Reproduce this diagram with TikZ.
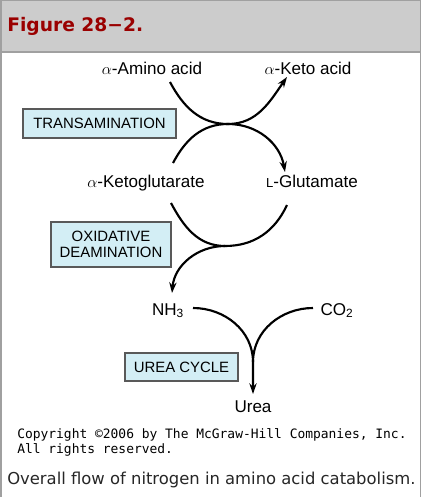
\documentclass[tikz,border=0pt]{standalone}
\usepackage{fontspec}
\setmainfont{Liberation Sans}
\newfontfamily\headfont{DejaVu Sans}
\newfontfamily\copyfont{DejaVu Sans Mono}
\usetikzlibrary{arrows.meta}

\definecolor{headgrey}{HTML}{CCCCCC}
\definecolor{framegrey}{HTML}{A0A0A0}
\definecolor{headred}{HTML}{9A0000}
\definecolor{boxblue}{HTML}{D3EEF5}

\tikzset{
    chem/.style={font=\fontsize{12.8}{14}\selectfont, anchor=base, inner sep=0pt},
    stepbox/.style={draw=black!65, fill=boxblue, line width=0.9pt, align=center,
        inner sep=0pt, font=\fontsize{11.2}{12}\selectfont},
    flow/.style={line width=1.6pt},
    flowarrow/.style={flow, -{Stealth[length=8pt, width=5.5pt]}}
}

\begin{document}
\begin{tikzpicture}[x=0.75pt, y=-0.75pt]
    \useasboundingbox (0,0) rectangle (424,497);

    % Header band and frame
    \fill[headgrey] (0,0) rectangle (421,51);
    \draw[framegrey, line width=1.5pt] (0,51.5) -- (421,51.5);
    \draw[framegrey, line width=1.2pt] (0.8,497) -- (0.8,0.6) -- (420.5,0.6) -- (420.5,497);
    \node[anchor=base west, inner sep=0pt, text=headred, font=\headfont\bfseries\fontsize{14}{16}\selectfont]
        (title) at (7,31) {Figure 28−2.};

    % Compounds
    \node[chem] (amino) at (152,74) {$\alpha$-Amino acid};
    \node[chem] (keto) at (308,74) {$\alpha$-Keto acid};
    \node[chem] (ketoglut) at (146,187) {$\alpha$-Ketoglutarate};
    \node[chem] (glutamate) at (312,187) {{\fontsize{9.8}{10}\selectfont L}-Glutamate};
    \node[chem] (nh3) at (168,315) {NH\textsubscript{3}};
    \node[chem] (co2) at (337,315) {CO\textsubscript{2}};
    \node[chem] (urea) at (253,412) {Urea};

    % Reaction boxes
    \node[stepbox, minimum width=114.75pt, minimum height=21.75pt] (transam) at (99.5,123.5) {TRANSAMINATION};
    \node[stepbox, minimum width=90pt, minimum height=33.75pt] (oxdeam) at (111,244.5) {OXIDATIVE\\DEAMINATION};
    \node[stepbox, minimum width=84.75pt, minimum height=21pt] (ureacyc) at (181.5,367) {UREA CYCLE};

    % Transamination
    \coordinate (tTopStart) at (170,82);
    \coordinate (tMid) at (228,124);
    \coordinate (tTopEnd) at (287,77);
    \coordinate (tBotStart) at (173,163);
    \coordinate (tBotEnd) at (285,172);
    \draw[flowarrow] (tTopStart) to[out=-62, in=180] (tMid) to[out=0, in=-125] (tTopEnd);
    \draw[flowarrow] (tBotStart) to[out=62, in=180] (tMid) to[out=0, in=100] (tBotEnd);

    % Oxidative deamination
    \coordinate (oStart) at (171,203);
    \coordinate (oMid) at (225,246);
    \coordinate (oEnd) at (287,205);
    \coordinate (oTip) at (172,293);
    \draw[flow] (oStart) to[out=-62, in=180] (oMid) to[out=0, in=-115] (oEnd);
    \draw[flowarrow] (oMid) to[out=180, in=85] (oTip);

    % Urea cycle
    \coordinate (uLeft) at (193,308);
    \coordinate (uRight) at (313,308);
    \coordinate (uJoin) at (253,362);
    \coordinate (uTip) at (253,394);
    \draw[flow] (uRight) to[out=180, in=90] (uJoin);
    \draw[flowarrow] (uLeft) to[out=0, in=90] (uJoin) -- (uTip);

    % Copyright and caption
    \node[anchor=base west, inner sep=0pt, font=\copyfont\fontsize{9.7}{11}\selectfont]
        (copy1) at (17,438) {Copyright \textcopyright2006 by The McGraw-Hill Companies, Inc.};
    \node[anchor=base west, inner sep=0pt, font=\copyfont\fontsize{9.7}{11}\selectfont]
        (copy2) at (17,453) {All rights reserved.};
    \node[anchor=base west, inner sep=0pt, text=black!85, font=\headfont\fontsize{12.3}{14}\selectfont]
        (caption) at (7,484) {Overall flow of nitrogen in amino acid catabolism.};
\end{tikzpicture}
\end{document}
